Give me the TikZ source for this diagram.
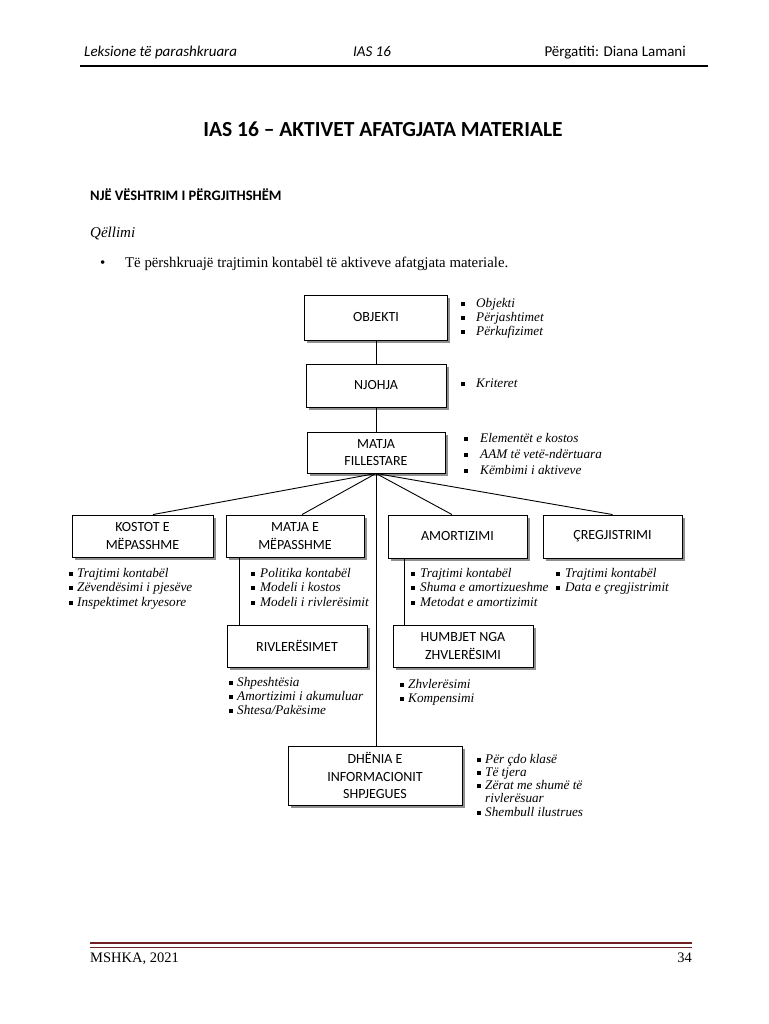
\documentclass[tikz,border=0pt]{standalone}
\usepackage{fontspec}
\setmainfont{Liberation Serif}
\newfontfamily\calib{Carlito}
\usetikzlibrary{shadows,calc}
\definecolor{footred}{RGB}{112,32,36}
\newcommand\sqb{\rule[1.3pt]{3.8pt}{3.8pt}}
\newcommand\li[5]{\node[itm] (#1) at (#2,#3) {\makebox[#4pt][l]{\sqb}#5};}
\begin{document}
\begin{tikzpicture}[x=1pt,y=-1pt,
  box/.style={draw, line width=0.9pt, fill=white, inner sep=0pt, align=center,
    font=\calib\fontsize{14}{17.5}\selectfont,
    drop shadow={shadow xshift=2.5pt, shadow yshift=-2.5pt, fill=black!55, opacity=0.8}},
  conn/.style={line width=0.9pt},
  itm/.style={anchor=base west, inner sep=0pt, font=\itshape\fontsize{13.2}{14}\selectfont}]
\useasboundingbox[fill=white] (0,0) rectangle (768,1024);

% header
\node[anchor=base west, inner sep=0pt, font=\calib\itshape\fontsize{15}{18}\selectfont] (h1) at (84,57) {Leksione të parashkruara};
\node[anchor=base, inner sep=0pt, font=\calib\itshape\fontsize{15}{18}\selectfont] (h2) at (372,57) {IAS 16};
\node[anchor=base east, inner sep=0pt, font=\calib\fontsize{15}{18}\selectfont] (h3) at (686,57) {Përgatiti: Diana Lamani};
\draw[line width=1.8pt] (80,66) -- (708,66);

% title and intro
\node[anchor=base, inner sep=0pt, font=\calib\bfseries\fontsize{21.5}{25}\selectfont] (title) at (383,137) {IAS 16 – AKTIVET AFATGJATA MATERIALE};
\node[anchor=base west, inner sep=0pt, font=\calib\bfseries\fontsize{14.5}{17}\selectfont] (sub) at (90,201) {NJË VËSHTRIM I PËRGJITHSHËM};
\node[anchor=base west, inner sep=0pt, font=\itshape\fontsize{15}{18}\selectfont] (q) at (90,237) {Qëllimi};
\node[anchor=base west, inner sep=0pt, font=\fontsize{15}{18}\selectfont] (b1) at (100,267) {•};
\node[anchor=base west, inner sep=0pt, font=\fontsize{14.8}{17}\selectfont] (b1t) at (125,267) {Të përshkruajë trajtimin kontabël të aktiveve afatgjata materiale.};

% boxes
\node[box, minimum width=143pt, minimum height=45pt] (obj) at (376,317.5) {OBJEKTI};
\node[box, minimum width=140pt, minimum height=43pt] (njo) at (376,385.5) {NJOHJA};
\node[box, minimum width=138pt, minimum height=41pt] (mf) at (376,452.5) {MATJA\\FILLESTARE};
\node[box, minimum width=141pt, minimum height=42pt] (kos) at (142.5,536) {KOSTOT E\\MËPASSHME};
\node[box, minimum width=138pt, minimum height=42pt] (me) at (295,536) {MATJA E\\MËPASSHME};
\node[box, minimum width=139pt, minimum height=43pt] (am) at (457.5,536.5) {AMORTIZIMI};
\node[box, minimum width=139pt, minimum height=43pt] (cr) at (612.5,536.5) {ÇREGJISTRIMI};
\node[box, minimum width=140pt, minimum height=42pt] (rv) at (297,646) {RIVLERËSIMET};
\node[box, minimum width=140pt, minimum height=42pt] (hu) at (463,646) {HUMBJET NGA\\ZHVLERËSIMI};
\node[box, minimum width=174pt, minimum height=59pt] (dh) at (375,775.5) {DHËNIA E\\INFORMACIONIT\\SHPJEGUES};

% connectors
\draw[conn] (obj.south) -- (njo.north);
\draw[conn] (njo.south) -- (mf.north);
\draw[conn] (mf.south) -- ($(kos.north)+(10.5,0)$);
\draw[conn] (mf.south) -- ($(me.north)+(7,0)$);
\draw[conn] (mf.south) -- ($(am.north)+(-5.5,0)$);
\draw[conn] (mf.south) -- (cr.north);
\draw[conn] (mf.south) -- (mf.south |- dh.north);
\draw[conn] ($(me.south west)+(14,0)$) -- ($(rv.north west)+(13,0)$);
\draw[conn] ($(am.south west)+(17,0)$) -- ($(hu.north west)+(12,0)$);

% lists
\li{o1}{461}{307}{15}{Objekti}
\li{o2}{461}{321}{15}{Përjashtimet}
\li{o3}{461}{335}{15}{Përkufizimet}
\li{n1}{461}{387}{15}{Kriteret}
\li{m1}{464}{442}{16}{Elementët e kostos}
\li{m2}{464}{458}{16}{AAM të vetë-ndërtuara}
\li{m3}{464}{474}{16}{Këmbimi i aktiveve}
\li{k1}{69}{577}{8}{Trajtimi kontabël}
\li{k2}{69}{591.5}{8}{Zëvendësimi i pjesëve}
\li{k3}{69}{606}{8}{Inspektimet kryesore}
\li{e1}{251}{577}{9}{Politika kontabël}
\li{e2}{251}{591.5}{9}{Modeli i kostos}
\li{e3}{251}{606}{9}{Modeli i rivlerësimit}
\li{a1}{411}{577}{9}{Trajtimi kontabël}
\li{a2}{411}{591.5}{9}{Shuma e amortizueshme}
\li{a3}{411}{606}{9}{Metodat e amortizimit}
\li{c1}{556}{577}{9}{Trajtimi kontabël}
\li{c2}{556}{591.5}{9}{Data e çregjistrimit}
\li{r1}{229}{686}{8}{Shpeshtësia}
\li{r2}{229}{700}{8}{Amortizimi i akumuluar}
\li{r3}{229}{714}{8}{Shtesa/Pakësime}
\li{u1}{400}{688}{8}{Zhvlerësimi}
\li{u2}{400}{702}{8}{Kompensimi}
\li{d1}{477}{763}{8}{Për çdo klasë}
\li{d2}{477}{776}{8}{Të tjera}
\li{d3}{477}{789}{8}{Zërat me shumë të}
\node[itm] (d3b) at (485,802) {rivlerësuar};
\li{d4}{477}{816}{8}{Shembull ilustrues}

% footer
\draw[footred, line width=2.6pt] (90,943) -- (692,943);
\draw[footred, line width=0.8pt] (90,947.5) -- (692,947.5);
\node[anchor=base west, inner sep=0pt, font=\fontsize{14.5}{17}\selectfont] (f1) at (90,962) {MSHKA, 2021};
\node[anchor=base east, inner sep=0pt, font=\fontsize{14.5}{17}\selectfont] (f2) at (692,962) {34};
\end{tikzpicture}
\end{document}
